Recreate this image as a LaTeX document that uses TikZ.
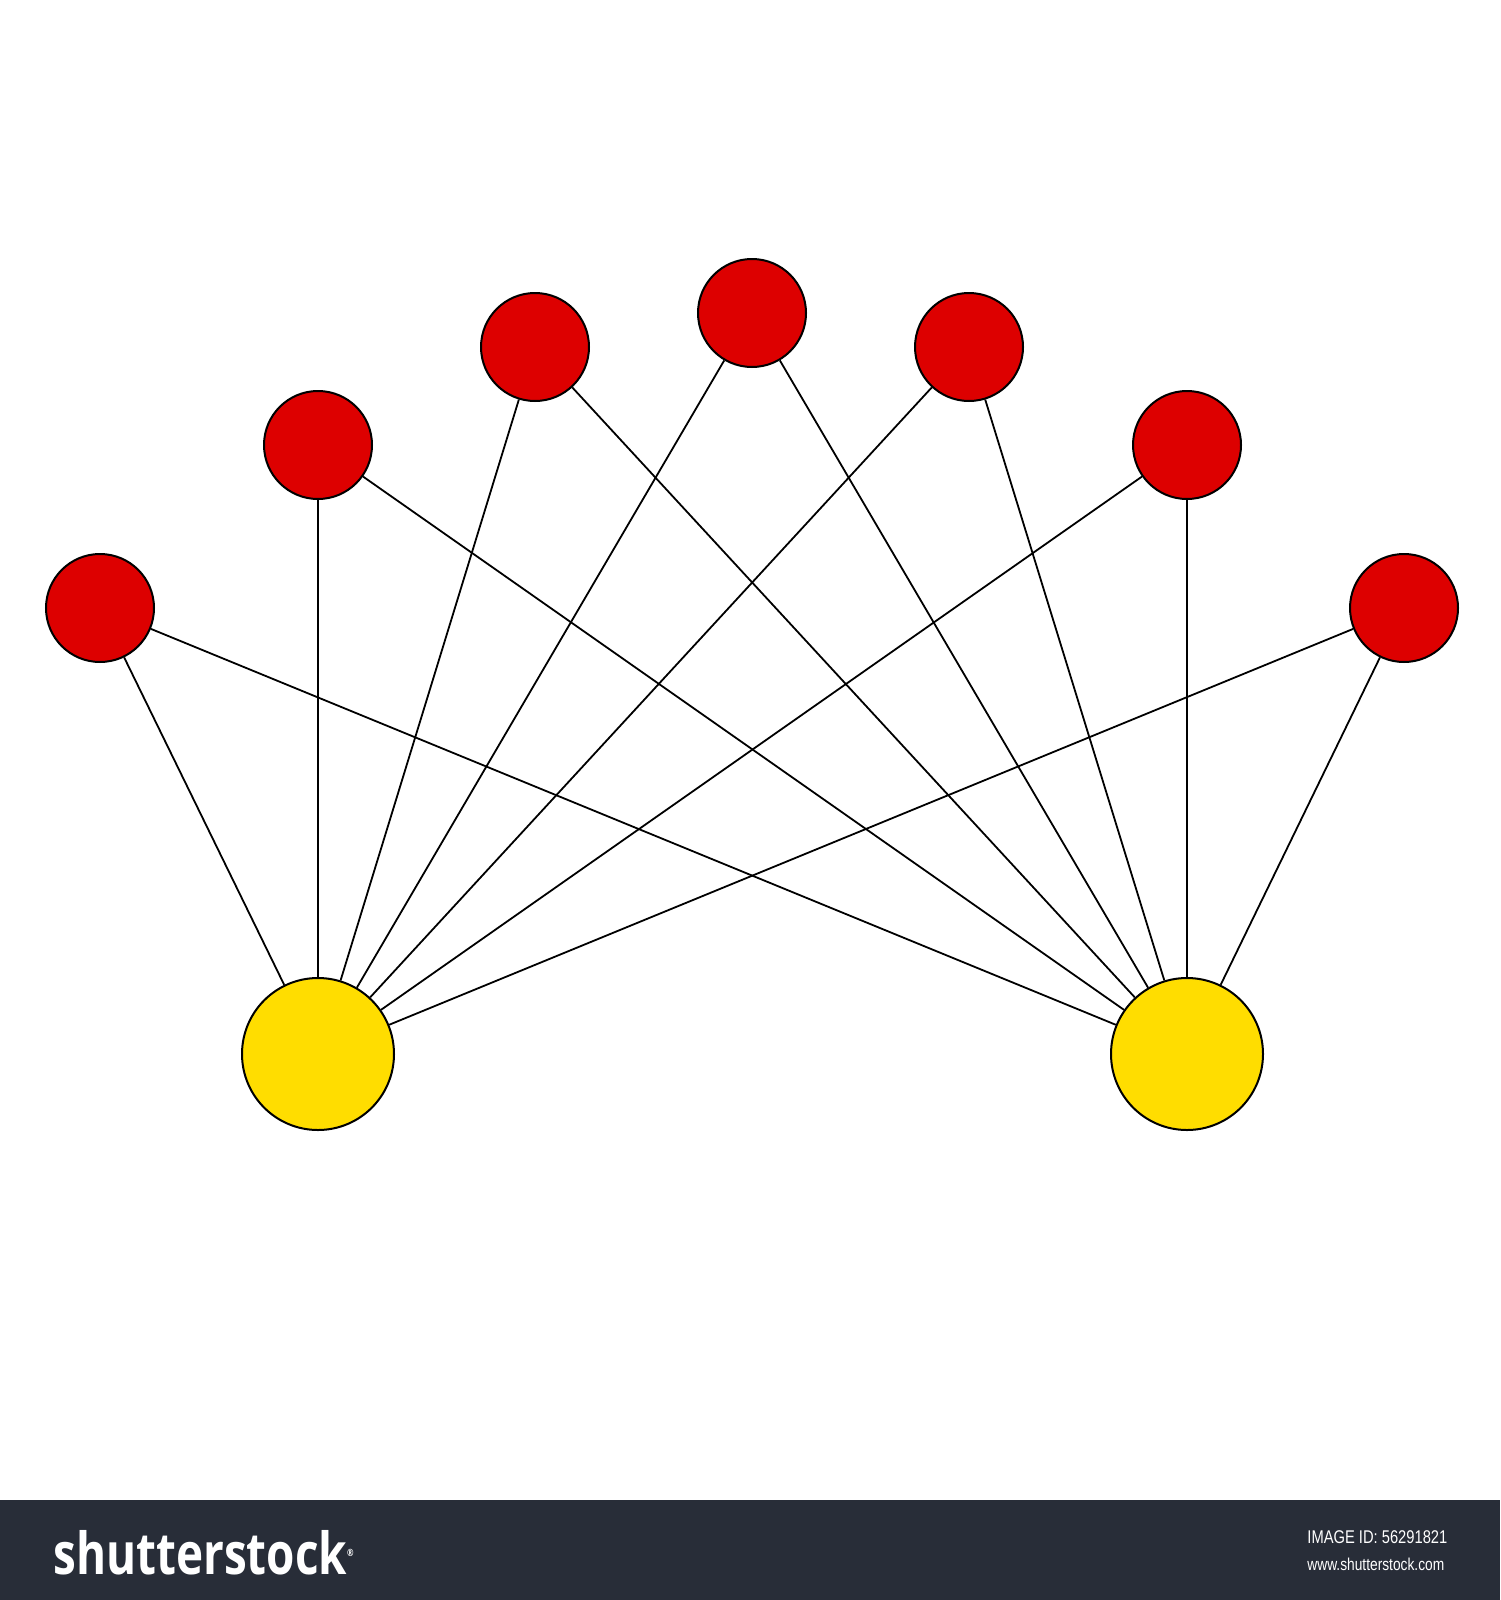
\documentclass[tikz,border=0pt]{standalone}
\usepackage{fontspec}
\setmainfont{Liberation Sans}
\newfontfamily\logofont{Open Sans}
\usetikzlibrary{backgrounds}
\begin{document}
\begin{tikzpicture}[x=0.5pt,y=-0.5pt]
\definecolor{redc}{HTML}{DD0000}
\definecolor{yelc}{HTML}{FFDD00}
\definecolor{barc}{HTML}{282D38}
\tikzset{
  rednode/.style={circle,draw=black,line width=1pt,fill=redc,minimum size=54pt,inner sep=0pt},
  yelnode/.style={circle,draw=black,line width=1pt,fill=yelc,minimum size=76pt,inner sep=0pt},
  edge/.style={draw=black,line width=0.9pt},
  bartext/.style={text=white,inner sep=0pt}
}
\useasboundingbox (0,0) rectangle (1500,1600);
% nodes
\node[yelnode] (y1) at (318,1054) {};
\node[yelnode] (y2) at (1187,1054) {};
\node[rednode] (r1) at (100,608) {};
\node[rednode] (r2) at (318,445) {};
\node[rednode] (r3) at (535,347) {};
\node[rednode] (r4) at (752,313) {};
\node[rednode] (r5) at (969,347) {};
\node[rednode] (r6) at (1187,445) {};
\node[rednode] (r7) at (1404,608) {};
\begin{pgfonlayer}{background}
\fill[white] (0,0) rectangle (1500,1600);
\fill[barc] (0,1500) rectangle (1500,1600);
\foreach \r in {r1,r2,r3,r4,r5,r6,r7}{
  \draw[edge] (\r) -- (y1);
  \draw[edge] (\r) -- (y2);
}
\end{pgfonlayer}
% banner
\node[bartext,anchor=west] (logo) at (53,1553) {\scalebox{0.79}[1]{\logofont\bfseries\fontsize{29}{29}\selectfont shutterstock\textsuperscript{\tiny\textregistered}}};
\node[bartext,anchor=west] (imgid) at (1307,1537) {\scalebox{0.8}[1]{\fontsize{9.2}{9.2}\selectfont IMAGE ID: 56291821}};
\node[bartext,anchor=west] (www) at (1307,1564) {\scalebox{0.8}[1]{\fontsize{8.6}{8.6}\selectfont www.shutterstock.com}};
\end{tikzpicture}
\end{document}
